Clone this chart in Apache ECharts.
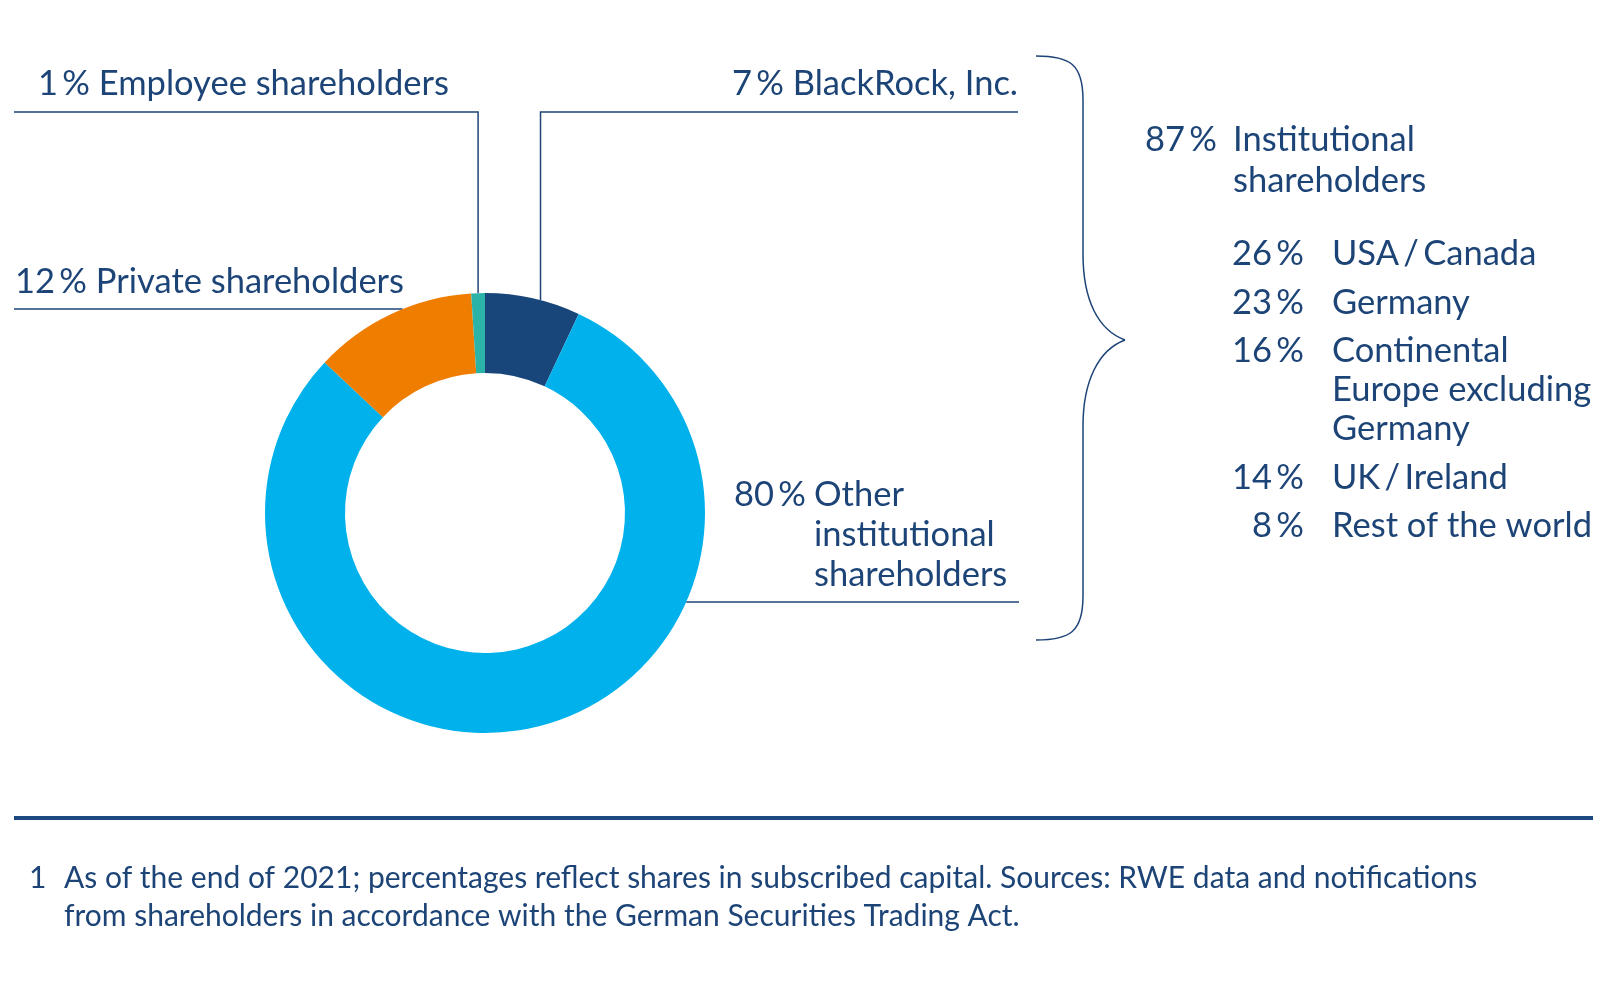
<!DOCTYPE html>
<html>
<head>
<meta charset="utf-8">
<script src="https://cdn.jsdelivr.net/npm/echarts@6/dist/echarts.min.js"></script>
<style>
  html, body { margin: 0; padding: 0; background: #fff; }
  #main { width: 1600px; height: 988px; }
</style>
</head>
<body>
<div id="main"></div>
<script>
// shareholder structure, end of 2021 (clockwise from 12 o'clock)
const categories = ['BlackRock, Inc.', 'Other\ninstitutional\nshareholders', 'Private shareholders', 'Employee shareholders'];
const shares = [7, 80, 12, 1];
const sliceColors = ['#18457A', '#00B1EB', '#EF7D00', '#2CB3A8'];

// breakdown of institutional shareholders
const institutionalShare = 87;
const institutionalLabel = 'Institutional\nshareholders';
const regions = ['USA\u2009/\u2009Canada', 'Germany', 'Continental\nEurope excluding\nGermany', 'UK\u2009/\u2009Ireland', 'Rest of the world'];
const regionShares = [26, 23, 16, 14, 8];

const footnote = [
  'As of the end of 2021; percentages reflect shares in subscribed capital. Sources: RWE data and notifications',
  'from shareholders in accordance with the German Securities Trading Act.'
];

const textColor = '#1D4477';
const font = 'Lato';
const fs = 34.5;
const cx = 485, cy = 513, rIn = 140, rOut = 220;

const starts = [];
let acc = 0;
shares.forEach(v => { starts.push(acc); acc += v; });

function edgeAt(pct) {
  const a = pct / 100 * 2 * Math.PI;
  return [cx + rOut * Math.sin(a), cy - rOut * Math.cos(a)];
}
function edgeAtY(y, side) {
  const dx = Math.sqrt(rOut * rOut - (y - cy) * (y - cy));
  return [cx + side * dx, y];
}
function pct(v) { return v + '\u2009%'; }

const chart = echarts.init(document.getElementById('main'));

// right-hand breakdown texts
const graphics = [];
function txt(x, y, s, align, size) {
  graphics.push({
    type: 'text', x: x, y: y,
    style: { text: s, fill: textColor, font: (size || fs) + 'px ' + font, textAlign: align || 'left', textVerticalAlign: 'middle' }
  });
}
txt(1217, 140, pct(institutionalShare), 'right');
institutionalLabel.split('\n').forEach((ln, k) => txt(1233, 140 + k * 41, ln));
let ry = 254;
regions.forEach((name, i) => {
  txt(1304, ry, pct(regionShares[i]), 'right');
  const lines = name.split('\n');
  lines.forEach((ln, k) => txt(1332, ry + k * 39, ln));
  ry += 48.5 + (lines.length - 1) * 39;
});

// curly brace
const braceStyle = { fill: 'none', stroke: textColor, lineWidth: 1.5 };
graphics.push(
  { type: 'bezierCurve', shape: { x1: 1036, y1: 56, cpx1: 1070, cpy1: 56, cpx2: 1083, cpy2: 64, x2: 1083, y2: 100 }, style: braceStyle },
  { type: 'line', shape: { x1: 1083, y1: 100, x2: 1083, y2: 254 }, style: braceStyle },
  { type: 'bezierCurve', shape: { x1: 1083, y1: 254, cpx1: 1083, cpy1: 300, cpx2: 1098, cpy2: 330, x2: 1125, y2: 340 }, style: braceStyle },
  { type: 'bezierCurve', shape: { x1: 1125, y1: 340, cpx1: 1098, cpy1: 350, cpx2: 1083, cpy2: 382, x2: 1083, y2: 426 }, style: braceStyle },
  { type: 'line', shape: { x1: 1083, y1: 426, x2: 1083, y2: 596 }, style: braceStyle },
  { type: 'bezierCurve', shape: { x1: 1083, y1: 596, cpx1: 1083, cpy1: 632, cpx2: 1070, cpy2: 640, x2: 1036, y2: 640 }, style: braceStyle }
);

// footer rule and footnote
graphics.push({ type: 'rect', shape: { x: 14, y: 816, width: 1579, height: 4 }, style: { fill: '#1B4A80' } });
txt(29, 878, '1', 'left', 30);
footnote.forEach((ln, k) => txt(64, 878 + k * 38, ln, 'left', 30));

const option = {
  animation: false,
  backgroundColor: '#fff',
  graphic: graphics,
  series: [{
    type: 'pie',
    center: [cx, cy],
    radius: [rIn, rOut],
    startAngle: 90,
    clockwise: true,
    avoidLabelOverlap: false,
    silent: true,
    itemStyle: { borderWidth: 0 },
    data: categories.map((c, i) => ({ name: c, value: shares[i], itemStyle: { color: sliceColors[i] } })),
    label: {
      show: true,
      position: 'outside',
      color: textColor,
      fontFamily: font,
      fontSize: fs,
      lineHeight: 40,
      formatter: p => {
        if (p.name.indexOf('\n') >= 0) {
          const ls = p.name.split('\n');
          return ls.map((l, k) => (k === 0 ? '{p|' + pct(p.value) + '}' : '{p| }') + '{n|' + l + '}').join('\n');
        }
        return pct(p.value) + ' ' + p.name;
      },
      rich: {
        p: { width: 80, fontSize: fs, fontFamily: font, color: textColor, lineHeight: 40 },
        n: { fontSize: fs, fontFamily: font, color: textColor, lineHeight: 40 }
      }
    },
    labelLine: { show: true, length: 10, length2: 10, lineStyle: { color: textColor, width: 1.5 } },
    labelLayout: p => {
      const i = p.dataIndex;
      if (i === 0) {
        const s = edgeAt(starts[0] + shares[0] * 0.58);
        return { x: 1018, y: 84, align: 'right', verticalAlign: 'middle', labelLinePoints: [s, [s[0], 112], [1018, 112]] };
      }
      if (i === 1) {
        const s = edgeAtY(602, 1);
        return { x: 734, y: 535, align: 'left', verticalAlign: 'middle', labelLinePoints: [s, [900, 602], [1019, 602]] };
      }
      if (i === 2) {
        const s = edgeAtY(309, -1);
        return { x: 15, y: 282, align: 'left', verticalAlign: 'middle', labelLinePoints: [s, [200, 309], [14, 309]] };
      }
      const s = edgeAt(starts[3] + shares[3] / 2);
      return { x: 38, y: 84, align: 'left', verticalAlign: 'middle', labelLinePoints: [s, [s[0], 112], [14, 112]] };
    }
  }]
};
chart.setOption(option);
</script>
</body>
</html>
